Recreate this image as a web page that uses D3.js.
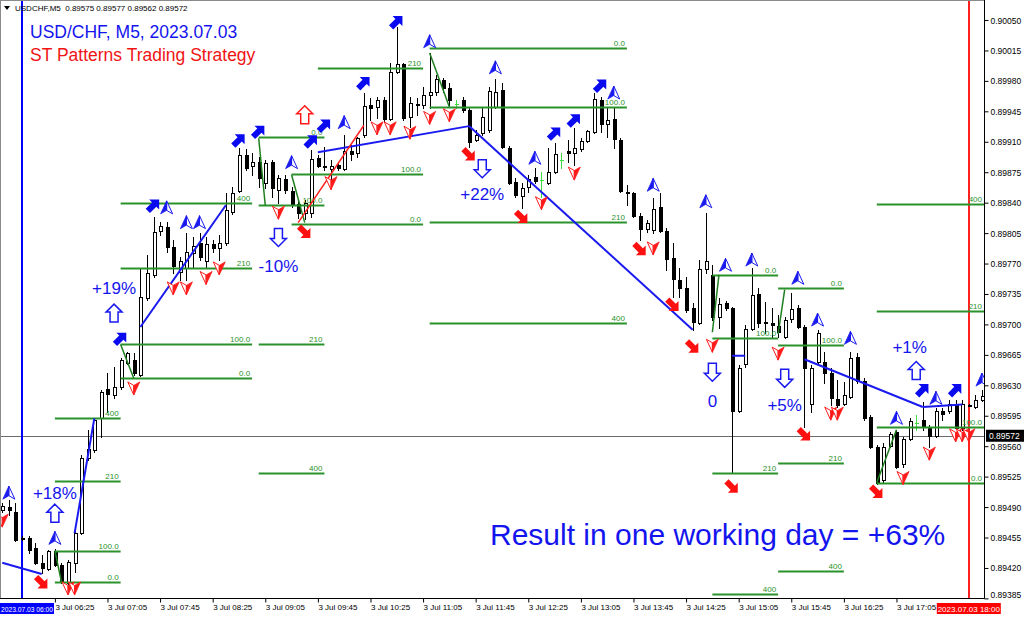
<!DOCTYPE html>
<html><head><meta charset="utf-8">
<script src="https://cdn.jsdelivr.net/npm/d3@7"></script>
<style>body{margin:0;background:#fff}svg{display:block}</style>
</head><body><svg id="c" width="1024" height="619"></svg>
<script>
// ---------------- DATA ----------------
const firstBar = "2023-07-03 05:45"; // 5-minute bars
const opens = [0.89487,0.89490,0.89484,0.89454,0.89454,0.89443,0.89426,0.89419,0.89440,0.89423,0.89403,0.89426,0.89460,0.89546,0.89556,0.89592,0.89626,0.89619,0.89628,0.89656,0.89659,0.89642,0.89730,0.89757,0.89807,0.89812,0.89789,0.89760,0.89765,0.89782,0.89794,0.89773,0.89792,0.89788,0.89794,0.89829,0.89853,0.89895,0.89882,0.89887,0.89863,0.89887,0.89855,0.89867,0.89853,0.89838,0.89828,0.89828,0.89891,0.89882,0.89879,0.89883,0.89879,0.89899,0.89897,0.89918,0.89952,0.89950,0.89958,0.89936,0.89990,0.89999,0.89938,0.89953,0.89952,0.89964,0.89967,0.89981,0.89972,0.89953,0.89958,0.89947,0.89912,0.89920,0.89924,0.89950,0.89970,0.89903,0.89864,0.89848,0.89858,0.89869,0.89866,0.89863,0.89875,0.89889,0.89899,0.89897,0.89902,0.89911,0.89921,0.89958,0.89930,0.89936,0.89912,0.89852,0.89851,0.89825,0.89810,0.89809,0.89835,0.89807,0.89776,0.89751,0.89742,0.89719,0.89702,0.89764,0.89757,0.89708,0.89725,0.89719,0.89601,0.89654,0.89695,0.89735,0.89703,0.89702,0.89698,0.89685,0.89706,0.89719,0.89697,0.89608,0.89657,0.89657,0.89644,0.89614,0.89608,0.89616,0.89662,0.89635,0.89593,0.89559,0.89521,0.89560,0.89576,0.89539,0.89568,0.89587,0.89590,0.89582,0.89572,0.89600,0.89600,0.89608,0.89581,0.89607,0.89605,0.89613];
const highs = [0.89495,0.89498,0.89495,0.89457,0.89457,0.89449,0.89435,0.89441,0.89442,0.89426,0.89429,0.89464,0.89550,0.89579,0.89591,0.89625,0.89644,0.89651,0.89661,0.89668,0.89667,0.89765,0.89780,0.89823,0.89818,0.89818,0.89797,0.89777,0.89805,0.89800,0.89805,0.89800,0.89797,0.89803,0.89851,0.89858,0.89903,0.89902,0.89897,0.89892,0.89889,0.89889,0.89872,0.89872,0.89858,0.89843,0.89843,0.89900,0.89895,0.89904,0.89889,0.89887,0.89918,0.89906,0.89915,0.89966,0.89960,0.89961,0.89961,0.90001,0.90042,0.90001,0.89961,0.89960,0.89973,0.90012,0.89987,0.89983,0.89978,0.89958,0.89961,0.89949,0.89924,0.89949,0.89973,0.89982,0.89978,0.89905,0.89868,0.89863,0.89872,0.89880,0.89875,0.89903,0.89909,0.89897,0.89912,0.89926,0.89914,0.89924,0.89966,0.89961,0.89950,0.89950,0.89914,0.89860,0.89852,0.89828,0.89820,0.89845,0.89851,0.89811,0.89794,0.89765,0.89754,0.89725,0.89774,0.89828,0.89768,0.89730,0.89727,0.89720,0.89653,0.89699,0.89765,0.89742,0.89726,0.89719,0.89711,0.89708,0.89736,0.89722,0.89699,0.89653,0.89694,0.89668,0.89650,0.89636,0.89634,0.89668,0.89667,0.89638,0.89596,0.89561,0.89564,0.89576,0.89579,0.89570,0.89592,0.89596,0.89611,0.89584,0.89604,0.89604,0.89613,0.89613,0.89613,0.89608,0.89619,0.89625];
const lows = [0.89484,0.89481,0.89451,0.89452,0.89437,0.89424,0.89414,0.89418,0.89422,0.89403,0.89401,0.89415,0.89459,0.89544,0.89553,0.89570,0.89599,0.89615,0.89626,0.89654,0.89642,0.89641,0.89728,0.89754,0.89803,0.89783,0.89759,0.89751,0.89751,0.89766,0.89774,0.89765,0.89783,0.89774,0.89791,0.89827,0.89852,0.89878,0.89872,0.89858,0.89857,0.89846,0.89840,0.89851,0.89835,0.89822,0.89821,0.89823,0.89881,0.89878,0.89863,0.89878,0.89878,0.89889,0.89892,0.89915,0.89935,0.89937,0.89933,0.89935,0.89989,0.89935,0.89927,0.89941,0.89949,0.89949,0.89964,0.89967,0.89950,0.89949,0.89944,0.89904,0.89911,0.89918,0.89921,0.89949,0.89903,0.89861,0.89846,0.89834,0.89852,0.89863,0.89846,0.89862,0.89874,0.89880,0.89887,0.89883,0.89899,0.89910,0.89920,0.89921,0.89915,0.89903,0.89852,0.89837,0.89823,0.89797,0.89806,0.89805,0.89806,0.89763,0.89731,0.89731,0.89714,0.89694,0.89701,0.89759,0.89705,0.89696,0.89717,0.89529,0.89599,0.89651,0.89694,0.89697,0.89690,0.89685,0.89685,0.89684,0.89703,0.89696,0.89582,0.89599,0.89653,0.89633,0.89607,0.89605,0.89607,0.89615,0.89633,0.89590,0.89558,0.89516,0.89519,0.89559,0.89535,0.89536,0.89567,0.89579,0.89579,0.89559,0.89570,0.89590,0.89598,0.89580,0.89579,0.89606,0.89604,0.89612];
const closes = [0.89491,0.89487,0.89452,0.89453,0.89441,0.89426,0.89420,0.89439,0.89423,0.89404,0.89427,0.89460,0.89546,0.89557,0.89590,0.89622,0.89620,0.89628,0.89659,0.89667,0.89644,0.89731,0.89759,0.89806,0.89813,0.89789,0.89767,0.89773,0.89783,0.89790,0.89777,0.89792,0.89788,0.89794,0.89832,0.89851,0.89895,0.89880,0.89887,0.89868,0.89886,0.89857,0.89868,0.89855,0.89838,0.89828,0.89840,0.89890,0.89882,0.89881,0.89882,0.89880,0.89899,0.89896,0.89914,0.89951,0.89949,0.89958,0.89936,0.89990,0.89999,0.89937,0.89955,0.89952,0.89964,0.89967,0.89982,0.89972,0.89958,0.89953,0.89947,0.89910,0.89918,0.89938,0.89968,0.89967,0.89904,0.89863,0.89849,0.89857,0.89867,0.89865,0.89866,0.89875,0.89896,0.89889,0.89897,0.89903,0.89911,0.89922,0.89959,0.89930,0.89935,0.89913,0.89853,0.89851,0.89825,0.89810,0.89817,0.89833,0.89807,0.89775,0.89752,0.89742,0.89717,0.89703,0.89764,0.89773,0.89708,0.89723,0.89719,0.89601,0.89650,0.89695,0.89734,0.89702,0.89702,0.89699,0.89691,0.89705,0.89718,0.89697,0.89650,0.89650,0.89690,0.89644,0.89615,0.89607,0.89619,0.89661,0.89635,0.89592,0.89559,0.89518,0.89559,0.89574,0.89536,0.89568,0.89589,0.89587,0.89582,0.89572,0.89600,0.89597,0.89608,0.89581,0.89608,0.89606,0.89613,0.89618];

const headerText = "USDCHF,M5  0.89575 0.89577 0.89562 0.89572";
const bidPrice = 0.89572;
const priceTicks = [0.90050,0.90015,0.89980,0.89945,0.89910,0.89875,0.89840,0.89805,0.89770,0.89735,0.89700,0.89665,0.89630,0.89595,0.89560,0.89525,0.89490,0.89455,0.89420,0.89385];
const timeTicks = ["06:25","07:05","07:45","08:25","09:05","09:45","10:25","11:05","11:45","12:25","13:05","13:45","14:25","15:05","15:45","16:25","17:05"];
const startLine = "06:00", endLine = "18:00";

const blueArrows = [["07:15",0.89684],["07:40",0.89837],["08:45",0.89912],["09:00",0.89922],["09:40",0.89911],["09:50",0.89929],["10:20",0.89978],["10:45",0.90048],["12:45",0.89920],["13:00",0.89935],["13:20",0.89975],["17:25",0.89625],["17:50",0.89625]];
const redArrows = [["06:15",0.89403],["09:35",0.89806],["11:40",0.89895],["12:20",0.89823],["13:50",0.89786],["14:15",0.89722],["14:30",0.89674],["15:00",0.89513],["15:55",0.89573],["16:50",0.89507]];
const blueHeads = [["05:50",0.89506],["06:25",0.89454],["07:50",0.89834],["08:05",0.89817],["08:15",0.89817],["09:25",0.89886],["10:05",0.89932],["11:10",0.90025],["12:00",0.89995],["12:30",0.89891],["13:30",0.89966],["14:00",0.89860],["14:40",0.89841],["14:55",0.89768],["15:15",0.89774],["15:50",0.89753],["16:05",0.89705],["16:30",0.89684],["17:05",0.89592],["17:35",0.89615],["18:10",0.89636]];
const redHeads = [["05:45",0.89475],["06:35",0.89397],["06:40",0.89397],["07:25",0.89627],["07:55",0.89742],["08:05",0.89742],["08:20",0.89754],["08:30",0.89765],["09:15",0.89829],["09:55",0.89863],["10:30",0.89926],["10:40",0.89926],["10:55",0.89921],["11:10",0.89938],["11:25",0.89941],["12:35",0.89840],["13:00",0.89874],["14:00",0.89788],["14:45",0.89676],["15:35",0.89667],["16:15",0.89598],["16:20",0.89598],["17:10",0.89524],["17:30",0.89552],["17:50",0.89573],["17:55",0.89573],["18:00",0.89573]];
const hollowArrows = [["06:25",0.89483,"up","blue"],["07:10",0.89713,"up","blue"],["09:15",0.89800,"down","blue"],["09:35",0.89941,"up","red"],["11:50",0.89879,"down","blue"],["14:45",0.89645,"down","blue"],["15:40",0.89638,"down","blue"],["17:20",0.89647,"up","blue"]];
const resultLabels = [["+18%","06:25",0.89499],["+19%","07:10",0.89735],["-10%","09:15",0.89760],["+22%","11:50",0.89843],["0","14:45",0.89605],["+5%","15:40",0.89601],["+1%","17:15",0.89667]];

const levelLines = [
 ["06:25","07:15",0.89404,"0.0"],["06:25","07:15",0.89440,"100.0"],["06:25","07:15",0.89520,"210"],["06:25","07:15",0.89592,"400"],
 ["07:15","08:55",0.89638,"0.0"],["07:15","08:55",0.89677,"100.0"],["07:15","08:55",0.89765,"210"],["07:15","08:55",0.89840,"400"],
 ["09:00","09:50",0.89915,"0.0"],["09:00","09:50",0.89837,"100.0"],["09:00","09:50",0.89677,"210"],["09:00","09:50",0.89529,"400"],
 ["09:25","11:05",0.89815,"0.0"],["09:25","11:05",0.89873,"100.0"],["09:45","11:05",0.89995,"210"],
 ["11:10","13:40",0.90018,"0.0"],["11:10","13:40",0.89950,"100.0"],["11:10","13:40",0.89818,"210"],["11:10","13:40",0.89702,"400"],
 ["14:45","15:35",0.89757,"0.0"],["14:45","15:35",0.89684,"100.0"],["14:45","15:35",0.89529,"210"],["14:45","15:35",0.89390,"400"],
 ["15:35","16:25",0.89742,"0.0"],["15:35","16:25",0.89676,"100.0"],["15:35","16:25",0.89541,"210"],["15:35","16:25",0.89416,"400"],
 ["16:50","18:15",0.89518,"0.0"],["16:50","18:15",0.89582,"100.0"],["16:50","18:15",0.89715,"210"],["16:50","18:15",0.89838,"400"]
];
const patternLines = [["06:25",0.89440,"06:30",0.89404],["07:15",0.89677,"07:25",0.89638],["09:00",0.89914,"09:05",0.89837],["09:25",0.89872,"09:35",0.89817],["11:10",0.90012,"11:25",0.89950],["14:45",0.89691,"14:50",0.89757],["15:35",0.89689,"15:40",0.89740],["16:50",0.89518,"17:05",0.89579]];
const blueTrend = [["05:45",0.89426,"06:15",0.89413],["06:40",0.89460,"06:55",0.89592],["07:30",0.89697,"08:35",0.89837],["09:45",0.89898,"11:40",0.89928],["11:40",0.89928,"14:30",0.89694],["15:00",0.89664,"15:10",0.89664],["15:55",0.89660,"17:25",0.89605],["17:25",0.89605,"17:55",0.89608]];
const redTrend = [["09:30",0.89817,"10:20",0.89929]];

// ---------------- CHART ----------------
const BLUE="#1414ee", RED="#f01414", GREEN="#2a922a", LIME="#3fdc3f";
const PL=1, PR=984, PT=1, PB=598;
const FONT="Liberation Sans, Arial, sans-serif";
const svg = d3.select("#c");
const parse = d3.timeParse("%Y-%m-%d %H:%M");
const T = s => parse("2023-07-03 " + s);
const x = d3.scaleTime().domain([T("06:00"), T("18:00")]).range([22, 968.8]);
const y = d3.scaleLinear().domain([0.89385, 0.90050]).range([598.4, 20]);
const fmtHM = d3.timeFormat("%H:%M");

svg.append("rect").attr("width",1024).attr("height",619).attr("fill","#fff");
svg.append("defs").append("clipPath").attr("id","clip").append("rect")
  .attr("x",PL).attr("y",PT).attr("width",PR-PL).attr("height",PB-PT);
const plot = svg.append("g").attr("clip-path","url(#clip)");

// bid line
plot.append("line").attr("x1",PL).attr("x2",PR).attr("y1",Math.round(y(bidPrice))+0.5).attr("y2",Math.round(y(bidPrice))+0.5)
  .attr("stroke","#6a6a6a").attr("stroke-width",1);

// vertical lines
plot.append("line").attr("x1",Math.round(x(T(startLine)))).attr("x2",Math.round(x(T(startLine)))).attr("y1",PT).attr("y2",PB)
  .attr("stroke","#0000ff").attr("stroke-width",2);
plot.append("line").attr("x1",Math.round(x(T(endLine)))).attr("x2",Math.round(x(T(endLine)))).attr("y1",PT).attr("y2",PB)
  .attr("stroke","#ff2020").attr("stroke-width",2);

// candles
const t0 = parse(firstBar);
const bars = opens.map((o,k)=>({t:d3.timeMinute.offset(t0,5*k),o,h:highs[k],l:lows[k],c:closes[k]}));
const gC = plot.append("g");
bars.forEach(d=>{
  const cx = Math.round(x(d.t));
  const yh=Math.round(y(d.h)), yl=Math.round(y(d.l)), yo=Math.round(y(d.o)), yc=Math.round(y(d.c));
  const doji = d.o===d.c;
  const col = doji ? LIME : "#000";
  gC.append("line").attr("x1",cx+0.5).attr("x2",cx+0.5).attr("y1",yh).attr("y2",yl+1).attr("stroke",col);
  if (doji || yo===yc) {
    gC.append("line").attr("x1",cx-1).attr("x2",cx+3).attr("y1",yo+0.5).attr("y2",yo+0.5).attr("stroke",col);
  } else {
    const bull = d.c>d.o;
    gC.append("rect").attr("x",cx-0.5).attr("width",3)
      .attr("y",Math.min(yo,yc)+0.5).attr("height",Math.abs(yo-yc))
      .attr("fill",bull?"#fff":"#000").attr("stroke","#000");
  }
});

// level lines
const gL = plot.append("g");
levelLines.forEach(([s,e,p,lab])=>{
  const x1=x(T(s)), x2=Math.min(x(T(e)),PR), yy=Math.round(y(p))+0.5;
  gL.append("line").attr("x1",x1).attr("x2",x2).attr("y1",yy).attr("y2",yy).attr("stroke",GREEN).attr("stroke-width",2);
  gL.append("text").attr("x",x2-2).attr("y",yy-3).attr("text-anchor","end")
    .attr("font-family",FONT).attr("font-size",8).attr("fill",GREEN).text(lab);
});
patternLines.forEach(([s,p,e,q])=>{
  gL.append("line").attr("x1",x(T(s))).attr("y1",y(p)).attr("x2",x(T(e))).attr("y2",y(q))
    .attr("stroke","#1f7f1f").attr("stroke-width",1.5);
});
blueTrend.forEach(([s,p,e,q])=>{
  gL.append("line").attr("x1",x(T(s))).attr("y1",y(p)).attr("x2",x(T(e))).attr("y2",y(q))
    .attr("stroke","#1a1af0").attr("stroke-width",2);
});
redTrend.forEach(([s,p,e,q])=>{
  gL.append("line").attr("x1",x(T(s))).attr("y1",y(p)).attr("x2",x(T(e))).attr("y2",y(q))
    .attr("stroke","#ff2020").attr("stroke-width",1.5);
});

// markers
const gM = plot.append("g");
const arrowPath = "M8,0 L1,-7 L1,-3 L-8,-3 L-8,3 L1,3 L1,7 Z";
blueArrows.forEach(([t,p])=>{
  gM.append("path").attr("d",arrowPath).attr("fill","#0a0af0")
    .attr("transform",`translate(${x(T(t))},${y(p)}) rotate(-45)`);
});
redArrows.forEach(([t,p])=>{
  gM.append("path").attr("d",arrowPath).attr("fill","#ff1010")
    .attr("transform",`translate(${x(T(t))},${y(p)}) rotate(45)`);
});
function head(g,t,p,color,rot){
  const gg = g.append("g").attr("transform",`translate(${x(T(t))},${y(p)}) rotate(${rot})`);
  gg.append("path").attr("d","M0,-7 L6,6 L0,2.5 Z").attr("fill","#fff").attr("stroke",color).attr("stroke-width",1).attr("stroke-linejoin","round");
  gg.append("path").attr("d","M0,-7 L-6,6 L0,2.5 Z").attr("fill",color).attr("stroke",color).attr("stroke-width",0.8);
}
blueHeads.forEach(([t,p])=>head(gM,t,p,"#1a1af0",0));
redHeads.forEach(([t,p])=>head(gM,t,p,"#ff1a1a",180));
const hollowUp = "M0,-9 L8,-1 L4,-1 L4,9 L-4,9 L-4,-1 L-8,-1 Z";
hollowArrows.forEach(([t,p,dir,c])=>{
  gM.append("path").attr("d",hollowUp).attr("fill","#fff")
    .attr("stroke",c==="red"?"#ff1a1a":"#1a1af0").attr("stroke-width",1.5)
    .attr("transform",`translate(${x(T(t))},${y(p)}) rotate(${dir==="up"?0:180})`);
});

// result labels
resultLabels.forEach(([s,t,p])=>{
  svg.append("text").attr("x",x(T(t))).attr("y",y(p)).attr("text-anchor","middle")
    .attr("font-family",FONT).attr("font-size",17).attr("fill",BLUE).text(s);
});

// frame
svg.append("rect").attr("x",PL-0.5).attr("y",PT-0.5).attr("width",PR-PL+1).attr("height",PB-PT+1)
  .attr("fill","none").attr("stroke","#8a8a8a");

// axes
const yAxis = d3.axisRight(y).tickValues(priceTicks).tickFormat(d3.format(".5f")).tickSize(4).tickPadding(2);
const gy = svg.append("g").attr("transform",`translate(${PR+0.5},0)`).call(yAxis);
gy.select(".domain").attr("d",`M0,0V${PB+0.5}`).attr("stroke","#000");
gy.selectAll("text").attr("font-family",FONT).attr("font-size",8.5).attr("fill","#000")
  .attr("dy",null).attr("y",d=>Math.min(3, PB-1-y(d)));
gy.selectAll(".tick line").attr("stroke","#000");

const xAxis = d3.axisBottom(x).tickValues(timeTicks.map(T)).tickFormat(d=>"3 Jul "+fmtHM(d)).tickSize(4).tickPadding(2);
const gx = svg.append("g").attr("transform",`translate(0,${PB+0.5})`).call(xAxis);
gx.select(".domain").attr("d",`M0,0H${PR+0.5}`).attr("stroke","#000");
gx.selectAll("text").attr("font-family",FONT).attr("font-size",8).attr("fill","#000")
  .attr("text-anchor","start").attr("dy","0.71em");
gx.selectAll(".tick line").attr("stroke","#000");

// time boxes
function timeBox(t,bg,clampLeft){
  const cx = x(T(t));
  const bx = clampLeft ? 0 : cx-32;
  const bw = clampLeft ? cx+32 : 64;
  svg.append("rect").attr("x",bx).attr("y",PB+5).attr("width",bw).attr("height",11).attr("fill",bg);
  const tx = svg.append("text").attr("x",bx+bw/2).attr("y",PB+14).attr("text-anchor","middle")
    .attr("font-family",FONT).attr("font-size",clampLeft?7:8).attr("fill","#fff")
    .text("2023.07.03 "+t);
  if (clampLeft) tx.attr("textLength",bw-2).attr("lengthAdjust","spacingAndGlyphs");
}
timeBox(startLine,"#0000ff",true);
timeBox(endLine,"#ff0000",false);

// bid label
svg.append("rect").attr("x",PR+2).attr("y",y(bidPrice)-6).attr("width",38).attr("height",12).attr("fill","#000");
svg.append("text").attr("x",PR+5).attr("y",y(bidPrice)+3.5).attr("font-family",FONT)
  .attr("font-size",8.5).attr("fill","#fff").text(d3.format(".5f")(bidPrice));

// header
svg.append("path").attr("d","M4,6 L10,6 L7,10 Z").attr("fill","#000");
svg.append("text").attr("x",15).attr("y",11).attr("font-family",FONT)
  .attr("font-size",8).attr("fill","#000").style("white-space","pre").text(headerText);

// titles
svg.append("text").attr("x",30).attr("y",38).attr("font-family",FONT)
  .attr("font-size",17.5).attr("fill",BLUE).text("USD/CHF, M5, 2023.07.03");
svg.append("text").attr("x",30).attr("y",61).attr("font-family",FONT)
  .attr("font-size",17.5).attr("fill",RED).text("ST Patterns Trading Strategy");
svg.append("text").attr("x",490).attr("y",545).attr("font-family",FONT)
  .attr("font-size",30).attr("fill",BLUE).text("Result in one working day = +63%");
</script></body></html>
